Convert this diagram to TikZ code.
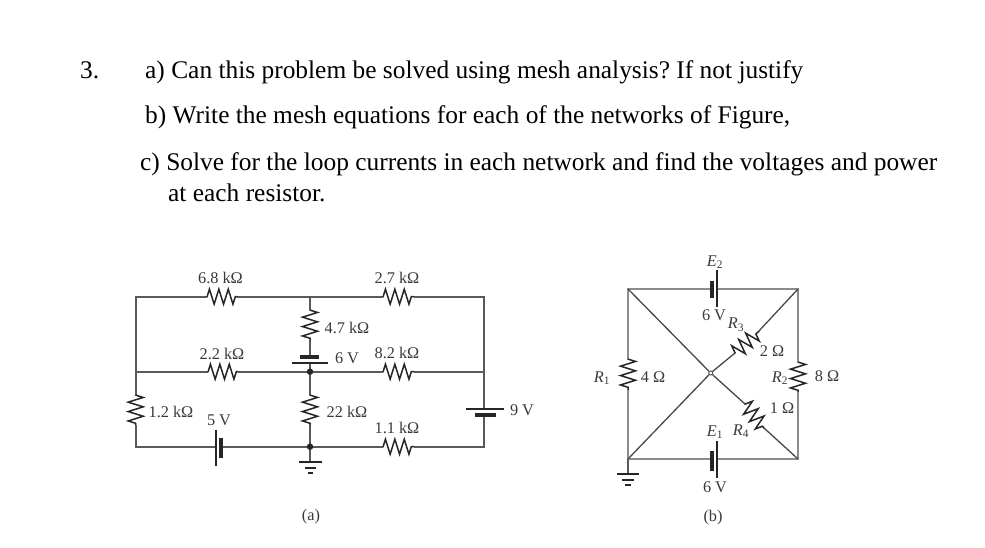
\documentclass[tikz,border=0pt]{standalone}
\usepackage{fontspec}
\setmainfont{Liberation Serif}
\frenchspacing
\usetikzlibrary{decorations.pathmorphing}
\definecolor{wirec}{HTML}{5A5A5A}
\definecolor{labc}{HTML}{3A3A3A}
\tikzset{
  line/.style={text=black,anchor=base west,inner sep=0pt,font=\fontsize{25.4}{28}\selectfont},
  lab/.style={text=labc,inner sep=0pt,font=\fontsize{16.3}{18}\selectfont},
  wire/.style={draw=wirec,line width=1.6pt},
  thin wire/.style={draw=wirec!80!black,line width=1.3pt},
  grey wire/.style={draw=black!45,line width=1.9pt},
  res/.style={draw=black!85,line width=1.5pt,decorate,decoration={zigzag,segment length=9.4pt,amplitude=7.5pt,pre length=.1pt,post length=.1pt}},
  longplate/.style={draw=black!85,line width=2pt},
  shortplate/.style={draw=black!85,line width=4pt},
  dot/.style={circle,fill=black!85,inner sep=0pt,minimum size=6.5pt},
}
\begin{document}
\begin{tikzpicture}[x=1pt,y=-1pt]
\useasboundingbox[fill=white] (0,0) rectangle (985,548);
% text
\node[line] (n3) at (80,78.3) {3.};
\node[line] (la) at (145,78.3) {a) Can this problem be solved using mesh analysis? If not justify};
\node[line] (lb) at (145,124) {b) Write the mesh equations for each of the networks of Figure,};
\node[line] (lc) at (140,171) {c) Solve for the loop currents in each network and find the voltages and power};
\node[line] (ld) at (168,201.5) {at each resistor.};
% --- figure (a) coordinates
\coordinate (TL) at (135.7,296.7);
\coordinate (TC) at (310,296.7);
\coordinate (TR) at (484,296.7);
\coordinate (ML) at (135.7,371.7);
\coordinate (MR) at (484,371.7);
\coordinate (BL) at (135.7,446.7);
\coordinate (BR) at (484,446.7);
\coordinate (MCc) at (310,371.7);
\coordinate (BCc) at (310,446.7);
\coordinate (r68a) at (207,296.7); \coordinate (r68b) at (237,296.7);
\coordinate (r27a) at (383,296.7); \coordinate (r27b) at (414,296.7);
\coordinate (r22a) at (208,371.7); \coordinate (r22b) at (238,371.7);
\coordinate (r82a) at (383,371.7); \coordinate (r82b) at (414,371.7);
\coordinate (r11a) at (383,446.7); \coordinate (r11b) at (414,446.7);
\coordinate (r47a) at (310,310); \coordinate (r47b) at (310,340);
\coordinate (r220a) at (310,395); \coordinate (r220b) at (310,425);
\coordinate (r12a) at (135.7,395); \coordinate (r12b) at (135.7,425);
\coordinate (b6a) at (310,357); \coordinate (b6b) at (310,362.7);
\coordinate (b5a) at (215.7,446.7); \coordinate (b5b) at (221,446.7);
\coordinate (b9a) at (484,409); \coordinate (b9b) at (484,415);
\coordinate (gA) at (310,461.7);
% wires (a)
\draw[wire] (r12a) -- (TL) -- (r68a) (r68b) -- (TC) -- (r27a) (r27b) -- (TR) -- (b9a);
\draw[wire] (ML) -- (r22a) (r22b) -- (MCc) -- (r82a) (r82b) -- (MR);
\draw[wire] (r12b) -- (BL) -- (b5a) (b5b) -- (BCc) -- (r11a) (r11b) -- (BR) -- (b9b);
\draw[wire] (TC) -- (r47a) (r47b) -- (b6a) (b6b) -- (MCc) -- (r220a) (r220b) -- (BCc) -- (gA);
\node[dot] (MC) at (MCc) {};
\node[dot] (BC) at (BCc) {};
% resistors (a)
\foreach \p/\q in {r68a/r68b,r27a/r27b,r22a/r22b,r82a/r82b,r11a/r11b}{\draw[res] (\p) -- (\q);}
\foreach \p/\q in {r47a/r47b,r220a/r220b,r12a/r12b}{\draw[res] (\p) -- (\q);}
% batteries (a)
\draw[longplate] (292,362.7) -- (328,362.7);
\draw[shortplate] (300,357) -- (319,357);
\draw[longplate] (215.7,430) -- (215.7,466);
\draw[shortplate] (221,438) -- (221,458);
\draw[longplate] (466,409) -- (504,409);
\draw[shortplate] (475,415) -- (496,415);
% ground (a)
\draw[black!85,line width=2.2pt] (299,462) -- (322,462);
\draw[black!85,line width=1.8pt] (305,468) -- (316,468);
\draw[black!85,line width=1.8pt] (308,473) -- (313,473);
% labels (a)
\node[lab] (l68) at (220.5,278) {6.8 kΩ};
\node[lab] (l27) at (397,278) {2.7 kΩ};
\node[lab] (l22) at (222,354) {2.2 kΩ};
\node[lab] (l82) at (397,353) {8.2 kΩ};
\node[lab] (l12) at (171,412) {1.2 kΩ};
\node[lab] (l5) at (219,420) {5 V};
\node[lab] (l47) at (347,328) {4.7 kΩ};
\node[lab] (l6) at (347,358) {6 V};
\node[lab] (l220) at (347,412) {22 kΩ};
\node[lab] (l11) at (397,428) {1.1 kΩ};
\node[lab] (l9) at (522,410) {9 V};
\node[lab] (ca) at (311,517) {(a)};
% --- figure (b)
\coordinate (A) at (628,289);
\coordinate (B) at (798,289);
\coordinate (C) at (798,459);
\coordinate (D) at (628,459);
\node[circle,draw=black!70,line width=.9pt,inner sep=0pt,minimum size=4pt] (O) at (710.7,373) {};
\coordinate (r1a) at (628,359); \coordinate (r1b) at (628,390);
\coordinate (r2a) at (798,362); \coordinate (r2b) at (798,392);
\coordinate (r3a) at (735,353); \coordinate (r3b) at (758,332);
\coordinate (r4a) at (745,404); \coordinate (r4b) at (764,428);
\coordinate (e2a) at (712,289); \coordinate (e2b) at (717,289);
\coordinate (e1a) at (712,459); \coordinate (e1b) at (717,459);
\coordinate (gB) at (628,474);
\draw[grey wire] (r1a) -- (A) -- (e2a) (e2b) -- (B) -- (r2a) (r2b) -- (C) -- (e1b) (e1a) -- (D) -- (r1b);
\draw[thin wire] (A) -- (O) -- (D) (O) -- (r3a) (r3b) -- (B) (O) -- (r4a) (r4b) -- (C);
\draw[wire] (D) -- (gB);
\foreach \p/\q in {r1a/r1b,r2a/r2b,r3a/r3b,r4a/r4b}{\draw[res] (\p) -- (\q);}
\draw[longplate] (717,270) -- (717,307);
\draw[shortplate] (712,281) -- (712,298);
\draw[longplate] (717,441) -- (717,478);
\draw[shortplate] (712,451) -- (712,471);
\draw[black!85,line width=2.2pt] (617,474) -- (639,474);
\draw[black!85,line width=1.8pt] (622,480) -- (634,480);
\draw[black!85,line width=1.8pt] (625,485) -- (631,485);
\node[lab] (lE2) at (715,262) {\textit{E}\textsubscript{2}};
\node[lab] (l6t) at (714,315) {6 V};
\node[lab] (lR3) at (736,325) {\textit{R}\textsubscript{3}};
\node[lab] (l2o) at (772,351) {2 Ω};
\node[lab] (lR1) at (602,378) {\textit{R}\textsubscript{1}};
\node[lab] (l4o) at (653,377) {4 Ω};
\node[lab] (lR2) at (780,378) {\textit{R}\textsubscript{2}};
\node[lab] (l8o) at (827,376) {8 Ω};
\node[lab] (l1o) at (782,408) {1 Ω};
\node[lab] (lE1) at (715,432) {\textit{E}\textsubscript{1}};
\node[lab] (lR4) at (741,431) {\textit{R}\textsubscript{4}};
\node[lab] (l6b) at (715,487) {6 V};
\node[lab] (cb) at (713,518) {(b)};
\end{tikzpicture}
\end{document}
